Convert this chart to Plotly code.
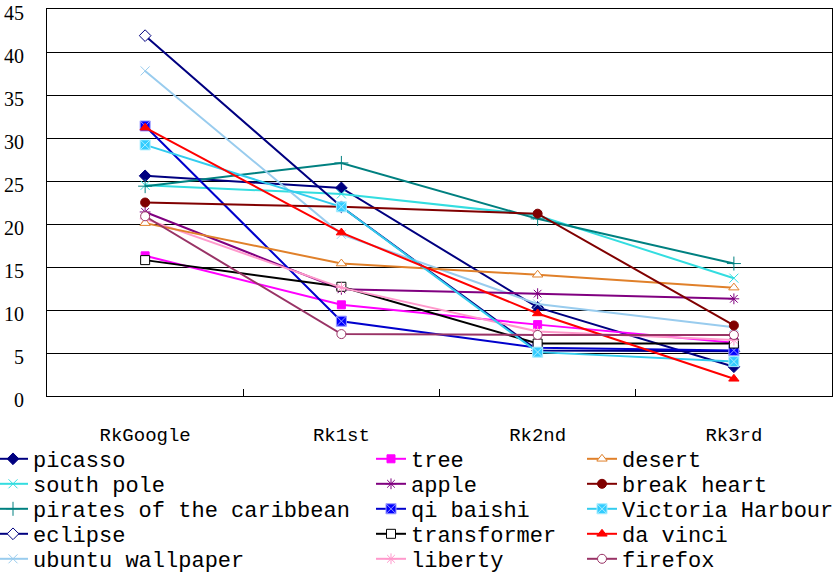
import plotly.graph_objects as go

categories = ["RkGoogle", "Rk1st", "Rk2nd", "Rk3rd"]

picasso = [25.6, 24.2, 10.3, 3.4]
south_pole = [24.5, 23.5, 21.0, 13.7]
pirates = [24.4, 27.1, 20.6, 15.4]
eclipse = [41.9, 22.0, 5.3, 5.2]
ubuntu = [37.8, 18.8, 10.7, 8.0]
tree = [16.3, 10.6, 8.3, 6.2]
apple = [21.4, 12.4, 11.9, 11.3]
qi_baishi = [31.4, 8.7, 5.6, 5.3]
transformer = [15.8, 12.7, 6.1, 6.1]
liberty = [20.6, 12.6, 7.5, 6.5]
desert = [20.1, 15.4, 14.1, 12.6]
break_heart = [22.5, 22.0, 21.2, 8.2]
victoria = [29.2, 22.0, 5.1, 4.0]
da_vinci = [31.2, 19.0, 9.6, 2.0]
firefox = [20.9, 7.2, 7.1, 7.1]

y_ticks = [0, 5, 10, 15, 20, 25, 30, 35, 40, 45]

series = [
    ("picasso", picasso, "#000080", dict(symbol="diamond", color="#000080", line=dict(color="#000080", width=1), size=9)),
    ("south pole", south_pole, "#33DDE0", dict(symbol="x-thin-open", color="#33DDE0", line=dict(color="#33DDE0", width=1), size=9)),
    ("pirates of the caribbean", pirates, "#008080", dict(symbol="cross-thin-open", color="#008080", line=dict(color="#008080", width=1), size=10)),
    ("eclipse", eclipse, "#000080", dict(symbol="diamond", color="white", line=dict(color="#000080", width=1), size=9)),
    ("ubuntu wallpaper", ubuntu, "#99CCEE", dict(symbol="x-thin-open", color="#99CCEE", line=dict(color="#99CCEE", width=1), size=9)),
    ("tree", tree, "#FF00FF", dict(symbol="square", color="#FF00FF", line=dict(color="#FF00FF", width=1), size=8)),
    ("apple", apple, "#800080", dict(symbol="asterisk-open", color="#800080", line=dict(color="#800080", width=1), size=9)),
    ("qi baishi", qi_baishi, "#0000CC", dict(symbol="square-x", color="#0000FF", line=dict(color="#9999FF", width=1), size=10)),
    ("transformer", transformer, "#000000", dict(symbol="square", color="white", line=dict(color="#000000", width=1), size=9)),
    ("liberty", liberty, "#FF99CC", dict(symbol="asterisk-open", color="#FF99CC", line=dict(color="#FF99CC", width=1), size=9)),
    ("desert", desert, "#E0802A", dict(symbol="triangle-up", color="white", line=dict(color="#E0802A", width=1), size=9)),
    ("break heart", break_heart, "#800000", dict(symbol="circle", color="#800000", line=dict(color="#800000", width=1), size=9)),
    ("Victoria Harbour", victoria, "#33CCEE", dict(symbol="square-x", color="#33CCFF", line=dict(color="#AAEEFF", width=1), size=10)),
    ("da vinci", da_vinci, "#FF0000", dict(symbol="triangle-up", color="#FF0000", line=dict(color="#FF0000", width=1), size=9)),
    ("firefox", firefox, "#993366", dict(symbol="circle", color="white", line=dict(color="#993366", width=1), size=9)),
]

fig = go.Figure()

L, R, T, B = 47, 3, 9, 178
W, H = 835, 574
pw = W - L - R
ph = H - T - B

col_px = [-7, 371, 582]
row_py = [459, 484, 509, 534, 559]

legend_layouts = {}
for i, (name, vals, lc, mk) in enumerate(series):
    col = i // 5
    row = i % 5
    key = "legend" if i == 0 else f"legend{i + 1}"
    fig.add_trace(go.Scatter(
        x=categories, y=vals, name=name, mode="lines+markers",
        line=dict(color=lc, width=2), marker=mk,
        legend=key,
    ))
    legend_layouts[key] = dict(
        x=(col_px[col] - L) / pw,
        y=((H - B) - row_py[row]) / ph,
        xanchor="left", yanchor="middle",
        orientation="v",
        bgcolor="rgba(0,0,0,0)",
        borderwidth=0,
        font=dict(family="Liberation Mono, monospace", size=22, color="black"),
        itemwidth=30,
    )

fig.update_layout(
    width=W, height=H,
    margin=dict(l=L, r=R, t=T, b=B, autoexpand=False),
    paper_bgcolor="white", plot_bgcolor="white",
    showlegend=True,
    **legend_layouts,
)

fig.update_xaxes(
    type="category",
    range=[-0.5, 3.5],
    automargin=False,
    showgrid=False,
    showline=True, linecolor="black", linewidth=1, mirror=True,
    ticks="inside", tickson="boundaries", ticklen=7, tickcolor="black",
    tickfont=dict(family="Liberation Mono, monospace", size=19, color="black"),
    ticklabelstandoff=21,
)
fig.update_yaxes(
    range=[0, 45],
    tickvals=y_ticks,
    automargin=False,
    ticklabeloverflow="allow",
    ticklabelshift=4,
    showgrid=True, gridcolor="black", gridwidth=1,
    showline=True, linecolor="black", linewidth=1, mirror=True,
    ticks="",
    zeroline=False,
    tickfont=dict(family="Liberation Serif, serif", size=20, color="black"),
    ticklabelstandoff=18,
)

fig.write_html(
    "out.html",
    config={"displayModeBar": False},
    post_script="document.body.style.margin='0';document.body.style.padding='0';",
)
